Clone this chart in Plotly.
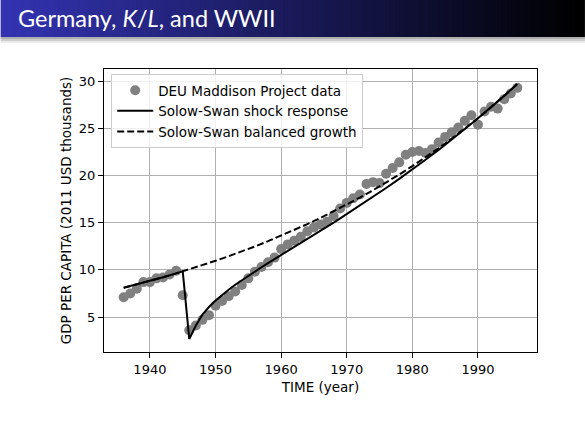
import plotly.graph_objects as go

# ---------------- data ----------------
years = list(range(1936, 1997))
gdp_pc = [7.1, 7.5, 8.0, 8.7, 8.7, 9.1, 9.2, 9.5, 9.9, 7.3,
          3.6, 4.1, 4.7, 5.2, 6.2, 6.7, 7.2, 7.7, 8.4, 9.1,
          9.8, 10.3, 10.8, 11.3, 12.2, 12.7, 13.1, 13.5, 14.1, 14.5,
          14.8, 15.1, 15.7, 16.5, 17.1, 17.6, 18.0, 19.1, 19.3, 19.2,
          20.2, 20.8, 21.4, 22.2, 22.5, 22.6, 22.4, 22.8, 23.5, 24.1,
          24.6, 25.1, 25.8, 26.4, 25.4, 26.8, 27.3, 27.1, 28.1, 28.7,
          29.3]

shock_years = [1936, 1938, 1940, 1942, 1944, 1945, 1946, 1947, 1948, 1949,
               1950, 1951, 1952, 1953, 1954, 1955, 1956, 1957, 1958, 1959,
               1960, 1961, 1962, 1963, 1964, 1965, 1966, 1967, 1968, 1969,
               1970, 1972, 1974, 1976, 1978, 1980, 1982, 1984, 1986, 1988,
               1990, 1992, 1994, 1996]
shock_vals = [8.10, 8.46, 8.83, 9.22, 9.63, 9.84, 2.67, 4.10, 5.25, 6.06,
              6.74, 7.34, 7.90, 8.42, 8.90, 9.38, 9.83, 10.28, 10.72, 11.14,
              11.56, 11.98, 12.40, 12.82, 13.23, 13.66, 14.11, 14.55, 15.00, 15.46,
              15.91, 16.83, 17.74, 18.68, 19.65, 20.64, 21.67, 22.72, 23.80, 24.93,
              26.08, 27.24, 28.45, 29.70]

bal_years = [1936, 1938, 1940, 1942, 1944, 1945, 1946, 1948, 1950, 1952,
             1954, 1956, 1958, 1960, 1962, 1964, 1966, 1968, 1970, 1972,
             1974, 1976, 1978, 1980, 1982, 1984, 1986, 1988, 1990, 1992,
             1994, 1996]
bal_vals = [8.10, 8.46, 8.83, 9.22, 9.63, 9.84, 10.05, 10.50, 10.96, 11.45,
            11.95, 12.48, 13.04, 13.62, 14.22, 14.85, 15.51, 16.20, 16.91, 17.66,
            18.44, 19.26, 20.11, 21.00, 21.93, 22.90, 23.92, 24.98, 26.08, 27.24,
            28.45, 29.70]

x_ticks = [1940, 1950, 1960, 1970, 1980, 1990]
y_ticks = [5, 10, 15, 20, 25, 30]

title_html = "Germany, <i>K</i>/<i>L</i>, and WWII"

# ---------------- layout geometry ----------------
W, H = 585, 435
L, R, T, B = 103.5, 48, 69, 83
PW, PH = W - L - R, H - T - B


def px(xp):
    return (xp - L) / PW


def py(yp):
    return 1 - (yp - T) / PH


CHART_FONT = "DejaVu Sans"

fig = go.Figure()
fig.add_trace(go.Scatter(
    x=years, y=gdp_pc, mode="markers", name="DEU Maddison Project data",
    marker=dict(color="#808080", size=10, line=dict(width=0))))
fig.add_trace(go.Scatter(
    x=shock_years, y=shock_vals, mode="lines", name="Solow-Swan shock response",
    line=dict(color="black", width=2)))
fig.add_trace(go.Scatter(
    x=bal_years, y=bal_vals, mode="lines", name="Solow-Swan balanced growth",
    line=dict(color="black", width=2, dash="7px,3px")))

shapes = []
# header bar gradient (51,51,178) -> black
N = 120
x0p, x1p = px(0), px(W)
y0p, y1p = py(37), py(-2)
for i in range(N):
    f = i / (N - 1)
    c = (round(51 * (1 - f)), round(51 * (1 - f)), round(178 * (1 - f)))
    xa = x0p + (x1p - x0p) * i / N
    xb = x0p + (x1p - x0p) * (i + 1.6) / N
    shapes.append(dict(type="rect", xref="paper", yref="paper",
                       x0=xa, x1=min(xb, x1p), y0=y0p, y1=y1p,
                       fillcolor="rgb(%d,%d,%d)" % c, line=dict(width=0),
                       layer="above"))
# shadow below the bar
shadow = [(37, 39, 175), (39, 41, 205), (41, 43, 235)]
for a, b, g in shadow:
    shapes.append(dict(type="rect", xref="paper", yref="paper",
                       x0=x0p, x1=x1p, y0=py(b), y1=py(a),
                       fillcolor="rgb(%d,%d,%d)" % (g, g, g), line=dict(width=0),
                       layer="above"))

annotations = [dict(text=title_html, xref="paper", yref="paper",
                    x=px(15), y=py(18), xanchor="left", yanchor="middle",
                    showarrow=False,
                    font=dict(family="Lato", size=23.5, color="white"))]

axis_common = dict(showline=True, linecolor="black", linewidth=1, mirror=True,
                   ticks="outside", ticklen=5, tickcolor="black", tickwidth=1,
                   showgrid=True, gridcolor="#b0b0b0", gridwidth=1,
                   zeroline=False,
                   tickfont=dict(family=CHART_FONT, size=13, color="black"))

fig.update_layout(
    width=W, height=H,
    margin=dict(l=L, r=R, t=T, b=B, pad=0),
    paper_bgcolor="white", plot_bgcolor="white",
    font=dict(family=CHART_FONT, size=13, color="black"),
    xaxis=dict(range=[1933, 1999], tickvals=x_ticks,
               title=dict(text="TIME (year)", standoff=6,
                          font=dict(family=CHART_FONT, size=13.5, color="black")),
               **axis_common),
    yaxis=dict(range=[1.29, 31.3], tickvals=y_ticks,
               title=dict(text="GDP PER CAPITA (2011 USD thousands)", standoff=4,
                          font=dict(family=CHART_FONT, size=13.5, color="black")),
               **axis_common),
    legend=dict(x=px(110.7), y=py(74), xanchor="left", yanchor="top",
                bgcolor="rgba(255,255,255,0.8)", bordercolor="#cccccc",
                borderwidth=1, itemwidth=36,
                font=dict(family=CHART_FONT, size=13.5, color="black")),
    shapes=shapes,
    annotations=annotations,
    showlegend=True,
)

fig.write_html(
    "out.html",
    config={"displayModeBar": False},
    post_script="document.body.style.margin='0';"
                "document.documentElement.style.overflow='hidden';")
